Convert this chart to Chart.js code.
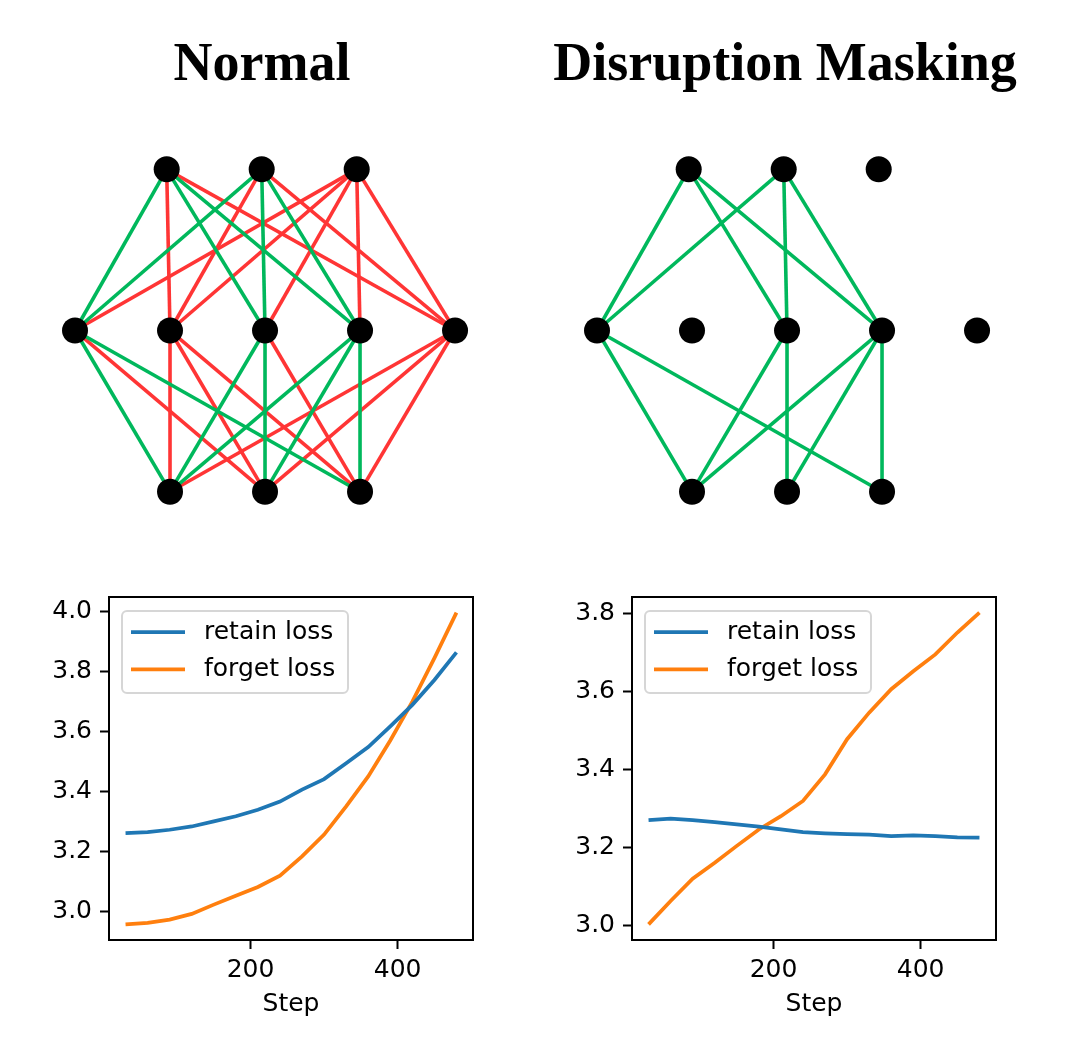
<!DOCTYPE html>
<html>
<head>
<meta charset="utf-8">
<script src="https://cdn.jsdelivr.net/npm/chart.js@4"></script>
<style>
  body { margin: 0; background: #fff; }
  #fig { position: relative; width: 1078px; height: 1060px; background: #fff; }
  #fig canvas { position: absolute; }
  .ttl { position: absolute; width: 560px; text-align: center; font: bold 54px "Liberation Serif", "Times New Roman", serif; line-height: 54px; color: #000; }
</style>
</head>
<body>
<div id="fig">
  <div class="ttl" style="left:-18px;top:35px">Normal</div>
  <div class="ttl" style="left:505px;top:35px">Disruption Masking</div>
  <canvas id="netNormal" width="530" height="460" style="left:0;top:100px"></canvas>
  <canvas id="netMasked" width="530" height="460" style="left:522px;top:100px"></canvas>
  <canvas id="lossNormal" width="540" height="490" style="left:0;top:570px"></canvas>
  <canvas id="lossMasked" width="540" height="490" style="left:523px;top:570px"></canvas>
</div>
<script>
// network layout: nodes per layer
const topX = [0.965, 1.965, 2.965];
const midX = [0, 1, 2, 3, 4];
const botX = [1, 2, 3];
const layerY = { T: 2, M: 1, B: 0 };

// connections kept under disruption masking
const greenEdges = [
  ["T0", "M0"], ["T0", "M2"], ["T0", "M3"], ["T1", "M0"], ["T1", "M2"], ["T1", "M3"],
  ["M0", "B0"], ["M0", "B2"], ["M2", "B0"], ["M2", "B1"], ["M3", "B0"], ["M3", "B1"], ["M3", "B2"]
];
// connections that get masked
const redEdges = [
  ["T0", "M1"], ["T0", "M4"], ["T1", "M1"], ["T1", "M4"],
  ["T2", "M0"], ["T2", "M1"], ["T2", "M2"], ["T2", "M3"], ["T2", "M4"],
  ["M0", "B1"], ["M1", "B0"], ["M1", "B1"], ["M1", "B2"], ["M2", "B2"],
  ["M4", "B0"], ["M4", "B1"], ["M4", "B2"]
];

// loss curves
const steps = [30, 60, 90, 120, 150, 180, 210, 240, 270, 300, 330, 360, 390, 420, 450, 480];
const normalRetain = [3.261, 3.264, 3.272, 3.283, 3.300, 3.317, 3.339, 3.366, 3.406, 3.441, 3.494, 3.548, 3.617, 3.689, 3.772, 3.864];
const normalForget = [2.956, 2.961, 2.972, 2.991, 3.022, 3.052, 3.081, 3.119, 3.183, 3.256, 3.350, 3.450, 3.570, 3.700, 3.845, 3.997];
const maskRetain = [3.271, 3.275, 3.271, 3.266, 3.260, 3.254, 3.247, 3.240, 3.237, 3.235, 3.234, 3.230, 3.232, 3.230, 3.227, 3.226];
const maskForget = [3.004, 3.064, 3.121, 3.162, 3.205, 3.247, 3.281, 3.320, 3.388, 3.478, 3.546, 3.606, 3.652, 3.695, 3.751, 3.802];

const GREEN = "#00b85c";
const RED = "#ff3535";
const tickFont = { family: "'DejaVu Sans', sans-serif", size: 25 };

function nodeList() {
  const out = {};
  topX.forEach((x, i) => { out["T" + i] = { x: x, y: layerY.T }; });
  midX.forEach((x, i) => { out["M" + i] = { x: x, y: layerY.M }; });
  botX.forEach((x, i) => { out["B" + i] = { x: x, y: layerY.B }; });
  return out;
}

function networkChart(id, edgeSets) {
  const nodes = nodeList();
  const datasets = [];
  edgeSets.forEach(set => {
    set.edges.forEach(e => {
      datasets.push({
        data: [nodes[e[0]], nodes[e[1]]],
        showLine: true,
        borderColor: set.color,
        borderWidth: 3.6,
        pointRadius: 0,
        order: 1,
      });
    });
  });
  datasets.push({
    data: Object.values(nodes),
    backgroundColor: "#000",
    borderWidth: 0,
    pointRadius: 13,
    order: 0,
  });
  return new Chart(document.getElementById(id), {
    type: "scatter",
    data: { datasets },
    options: {
      responsive: false,
      animation: false,
      events: [],
      layout: { padding: 0, autoPadding: false },
      scales: {
        x: { type: "linear", min: -0.7895, max: 4.789, display: false },
        y: { type: "linear", min: -0.4237, max: 2.43, display: false },
      },
      plugins: { legend: { display: false }, tooltip: { enabled: false } },
    },
  });
}

function padRange(values) {
  const lo = Math.min(...values), hi = Math.max(...values);
  const m = (hi - lo) * 0.05;
  return [lo - m, hi + m];
}

// axes box + matplotlib-like legend
const framePlugin = {
  id: "frame",
  afterDraw(chart) {
    const { ctx, chartArea: a } = chart;
    ctx.save();
    ctx.strokeStyle = "#000";
    ctx.lineWidth = 2;
    ctx.strokeRect(a.left, a.top, a.right - a.left, a.bottom - a.top);

    const lx = a.left + 13, ly = a.top + 14, w = 226, h = 82;
    ctx.beginPath();
    ctx.roundRect(lx, ly, w, h, 5);
    ctx.fillStyle = "rgba(255,255,255,0.8)";
    ctx.fill();
    ctx.strokeStyle = "#d6d6d6";
    ctx.lineWidth = 2;
    ctx.stroke();
    ctx.font = "25px 'DejaVu Sans', sans-serif";
    ctx.textBaseline = "middle";
    ctx.fillStyle = "#000";
    chart.data.datasets.forEach((ds, i) => {
      const y = ly + 21 + i * 37.3;
      ctx.beginPath();
      ctx.moveTo(lx + 9, y);
      ctx.lineTo(lx + 63, y);
      ctx.strokeStyle = ds.borderColor;
      ctx.lineWidth = 3.75;
      ctx.stroke();
      ctx.fillText(ds.label, lx + 82, y);
    });
    ctx.restore();
  }
};

function lossChart(id, retain, forget) {
  const xr = padRange(steps);
  const yr = padRange(retain.concat(forget));
  const axisGrid = { drawOnChartArea: false, tickLength: 9, tickWidth: 2, tickColor: "#000" };
  return new Chart(document.getElementById(id), {
    type: "line",
    data: {
      datasets: [{
        label: "retain loss",
        data: steps.map((s, i) => ({ x: s, y: retain[i] })),
        borderColor: "#1f77b4",
        borderWidth: 3.75,
        pointRadius: 0,
        tension: 0,
        fill: false,
      }, {
        label: "forget loss",
        data: steps.map((s, i) => ({ x: s, y: forget[i] })),
        borderColor: "#ff7f0e",
        borderWidth: 3.75,
        pointRadius: 0,
        tension: 0,
        fill: false,
      }],
    },
    options: {
      responsive: false,
      animation: false,
      events: [],
      layout: { padding: { top: 27, right: 67, left: 0, bottom: 0 } },
      scales: {
        x: {
          type: "linear", min: xr[0], max: xr[1],
          ticks: { stepSize: 200, includeBounds: false, padding: 6, color: "#000", font: tickFont, maxRotation: 0 },
          grid: axisGrid,
          border: { display: false },
          title: { display: true, text: "Step", color: "#000", font: tickFont, padding: { top: 0, bottom: 41 } },
          afterFit: s => { s.height = 120; },
        },
        y: {
          type: "linear", min: yr[0], max: yr[1],
          ticks: { stepSize: 0.2, includeBounds: false, padding: 8, color: "#000", font: tickFont, callback: v => v.toFixed(1) },
          grid: axisGrid,
          border: { display: false },
          afterFit: s => { s.width = 109; },
        },
      },
      plugins: { legend: { display: false }, tooltip: { enabled: false } },
    },
    plugins: [framePlugin],
  });
}

networkChart("netNormal", [{ edges: greenEdges, color: GREEN }, { edges: redEdges, color: RED }]);
networkChart("netMasked", [{ edges: greenEdges, color: GREEN }]);
lossChart("lossNormal", normalRetain, normalForget);
lossChart("lossMasked", maskRetain, maskForget);
</script>
</body>
</html>
